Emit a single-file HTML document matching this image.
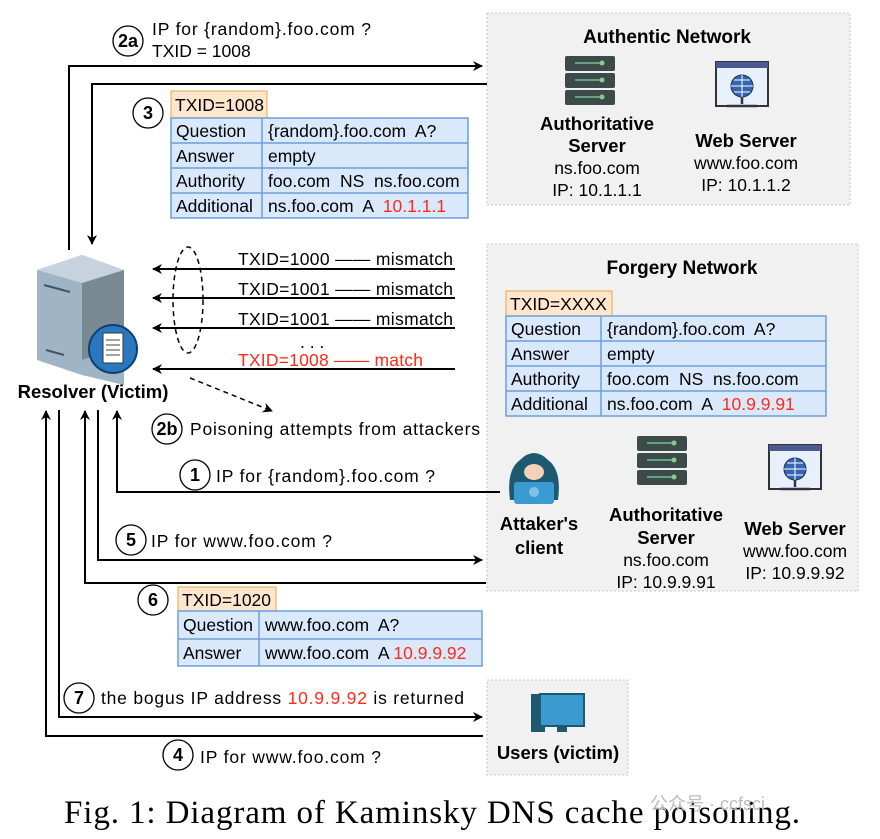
<!DOCTYPE html>
<html><head><meta charset="utf-8"><style>
html,body{margin:0;padding:0;background:#fff;}
svg{display:block;font-family:"Liberation Sans",Arial,sans-serif;}
text{white-space:pre;}
</style></head><body>
<svg width="880" height="839" viewBox="0 0 880 839" xmlns="http://www.w3.org/2000/svg" xml:space="preserve">
<defs>
<marker id="a" markerWidth="10" markerHeight="10" refX="9" refY="5" orient="auto" markerUnits="userSpaceOnUse"><path d="M0,0 L10,5 L0,10 L3,5 z" fill="#000"/></marker>
</defs>
<rect x="487" y="13" width="363" height="192" fill="#f1f1f1" stroke="#c8c8c8" stroke-dasharray="2,2"/>
<rect x="487" y="244" width="371" height="347" fill="#f1f1f1" stroke="#c8c8c8" stroke-dasharray="2,2"/>
<rect x="487" y="680" width="141" height="95" fill="#f1f1f1" stroke="#c8c8c8" stroke-dasharray="2,2"/>

<g font-size="17" fill="#000">
<text x="667" y="43" text-anchor="middle" font-weight="bold" font-size="19">Authentic Network</text>
<text x="682" y="274" text-anchor="middle" font-weight="bold" font-size="19">Forgery Network</text>
</g>

<g stroke="#000" stroke-width="2" fill="none">
<polyline points="69,250 69,66 482,66" marker-end="url(#a)"/>
<polyline points="487,84 92,84 92,244" marker-end="url(#a)"/>
<line x1="455" y1="269" x2="153" y2="269" marker-end="url(#a)"/>
<line x1="455" y1="298" x2="153" y2="298" marker-end="url(#a)"/>
<line x1="455" y1="328" x2="153" y2="328" marker-end="url(#a)"/>
<line x1="455" y1="369" x2="153" y2="369" marker-end="url(#a)"/>
<polyline points="500,492 117,492 117,411" marker-end="url(#a)"/>
<polyline points="98,410 98,560 482,560" marker-end="url(#a)"/>
<polyline points="486,583 85,583 85,411" marker-end="url(#a)"/>
<polyline points="59,410 59,717 482,717" marker-end="url(#a)"/>
<polyline points="483,736 46,736 46,411" marker-end="url(#a)"/>
</g>
<ellipse cx="188" cy="300" rx="15" ry="53" fill="none" stroke="#000" stroke-width="1.5" stroke-dasharray="5,4"/>
<line x1="190" y1="378" x2="272" y2="411" stroke="#000" stroke-width="1.5" stroke-dasharray="5,4" marker-end="url(#a)"/>

<g font-size="17.5" fill="#000">
<text x="152" y="35" textLength="219">IP for {random}.foo.com ?</text>
<text x="152" y="57">TXID = 1008</text>
<text x="238" y="265" textLength="215">TXID=1000 —— mismatch</text>
<text x="238" y="295" textLength="215">TXID=1001 —— mismatch</text>
<text x="238" y="325" textLength="215">TXID=1001 —— mismatch</text>
<text x="300" y="348">. . .</text>
<text x="238" y="366" fill="#ff2a1a" textLength="185">TXID=1008 —— match</text>
<text x="190" y="435" textLength="290">Poisoning attempts from attackers</text>
<text x="216" y="482" textLength="219">IP for {random}.foo.com ?</text>
<text x="151" y="547" textLength="181">IP for www.foo.com ?</text>
<text x="101" y="704" textLength="363">the bogus IP address <tspan fill="#ff2a1a">10.9.9.92</tspan> is returned</text>
<text x="200" y="763" textLength="181">IP for www.foo.com ?</text>
<text x="93" y="398" font-weight="bold" font-size="18.5" text-anchor="middle">Resolver (Victim)</text>
</g>
<g fill="#fff" stroke="#000" stroke-width="1.3">
<circle cx="128" cy="41" r="15"/><circle cx="148" cy="113" r="15"/><circle cx="167" cy="429" r="15"/>
<circle cx="195" cy="475" r="15"/><circle cx="131" cy="540" r="15"/><circle cx="153" cy="600" r="15"/>
<circle cx="79" cy="698" r="15"/><circle cx="178" cy="755" r="15"/>
</g>
<g font-size="18" font-weight="bold" text-anchor="middle">
<text x="128" y="47">2a</text><text x="148" y="119">3</text><text x="167" y="435">2b</text>
<text x="195" y="481">1</text><text x="131" y="546">5</text><text x="153" y="606">6</text>
<text x="79" y="704">7</text><text x="178" y="761">4</text>
</g>

<g font-size="17.5">
<rect x="171" y="91" width="96" height="27" fill="#ffe6cc" stroke="#e8a64a"/>
<text x="175" y="111">TXID=1008</text>
<rect x="171" y="118" width="297" height="100" fill="#dae8fc" stroke="#6c9ed8" stroke-width="1.5"/>
<g stroke="#6c9ed8" stroke-width="1.5"><line x1="171" y1="143" x2="468" y2="143"/><line x1="171" y1="168" x2="468" y2="168"/><line x1="171" y1="193" x2="468" y2="193"/><line x1="262" y1="118" x2="262" y2="218"/></g>
<text x="176" y="137">Question</text><text x="268" y="137">{random}.foo.com  A?</text>
<text x="176" y="162">Answer</text><text x="268" y="162">empty</text>
<text x="176" y="187">Authority</text><text x="268" y="187">foo.com  NS  ns.foo.com</text>
<text x="176" y="212">Additional</text><text x="268" y="212">ns.foo.com  A  <tspan fill="#ff2a1a">10.1.1.1</tspan></text>

<rect x="506" y="291" width="106" height="25" fill="#ffe6cc" stroke="#e8a64a"/>
<text x="510" y="310">TXID=XXXX</text>
<rect x="506" y="316" width="320" height="100" fill="#dae8fc" stroke="#6c9ed8" stroke-width="1.5"/>
<g stroke="#6c9ed8" stroke-width="1.5"><line x1="506" y1="341" x2="826" y2="341"/><line x1="506" y1="366" x2="826" y2="366"/><line x1="506" y1="391" x2="826" y2="391"/><line x1="601" y1="316" x2="601" y2="416"/></g>
<text x="511" y="335">Question</text><text x="607" y="335">{random}.foo.com  A?</text>
<text x="511" y="360">Answer</text><text x="607" y="360">empty</text>
<text x="511" y="385">Authority</text><text x="607" y="385">foo.com  NS  ns.foo.com</text>
<text x="511" y="410">Additional</text><text x="607" y="410">ns.foo.com  A  <tspan fill="#ff2a1a">10.9.9.91</tspan></text>

<rect x="178" y="587" width="98" height="24" fill="#ffe6cc" stroke="#e8a64a"/>
<text x="182" y="606">TXID=1020</text>
<rect x="178" y="611" width="304" height="55" fill="#dae8fc" stroke="#6c9ed8" stroke-width="1.5"/>
<g stroke="#6c9ed8" stroke-width="1.5"><line x1="178" y1="639" x2="482" y2="639"/><line x1="259" y1="611" x2="259" y2="666"/></g>
<text x="183" y="631">Question</text><text x="265" y="631">www.foo.com  A?</text>
<text x="183" y="659">Answer</text><text x="265" y="659">www.foo.com  A <tspan fill="#ff2a1a">10.9.9.92</tspan></text>
</g>

<g font-size="17.5" text-anchor="middle">
<text x="597" y="130" font-weight="bold" font-size="18.5">Authoritative</text>
<text x="597" y="152" font-weight="bold" font-size="18.5">Server</text>
<text x="597" y="174">ns.foo.com</text><text x="597" y="196">IP: 10.1.1.1</text>
<text x="746" y="147" font-weight="bold" font-size="18.5">Web Server</text>
<text x="746" y="169">www.foo.com</text><text x="746" y="191">IP: 10.1.1.2</text>
<text x="539" y="530" font-weight="bold" font-size="18.5">Attaker's</text>
<text x="539" y="554" font-weight="bold" font-size="18.5">client</text>
<text x="666" y="521" font-weight="bold" font-size="18.5">Authoritative</text>
<text x="666" y="544" font-weight="bold" font-size="18.5">Server</text>
<text x="666" y="566">ns.foo.com</text><text x="666" y="588">IP: 10.9.9.91</text>
<text x="795" y="535" font-weight="bold" font-size="18.5">Web Server</text>
<text x="795" y="557">www.foo.com</text><text x="795" y="579">IP: 10.9.9.92</text>
<text x="558" y="759" font-weight="bold" font-size="18.5">Users (victim)</text>
</g>

<g id="srv">
<rect x="565" y="56" width="50" height="15" rx="2" fill="#3d4a4a"/>
<rect x="565" y="73" width="50" height="15" rx="2" fill="#3d4a4a"/>
<rect x="565" y="90" width="50" height="15" rx="2" fill="#3d4a4a"/>
<g stroke="#8fb" stroke-width="1"><line x1="575" y1="63" x2="600" y2="63"/><line x1="575" y1="80" x2="600" y2="80"/><line x1="575" y1="97" x2="600" y2="97"/></g>
<circle cx="602" cy="63" r="2.5" fill="#8c8"/><circle cx="602" cy="80" r="2.5" fill="#8c8"/><circle cx="602" cy="97" r="2.5" fill="#8c8"/>
</g>
<use href="#srv" x="72" y="380"/>
<g id="web">
<rect x="716" y="62" width="52" height="44" fill="#e8f0fb" stroke="#333" stroke-width="2"/>
<rect x="716" y="62" width="52" height="6" fill="#4a5a90"/>
<circle cx="742" cy="86" r="11" fill="#3565b0" stroke="#1a2f60"/>
<path d="M731,86 H753 M742,75 V97 M734,80 H750 M734,92 H750" stroke="#fff" stroke-width="1"/>
<path d="M742,97 V104 M727,106 H757" stroke="#334" stroke-width="2.5"/>
</g>
<use href="#web" x="53" y="383"/>
<path d="M510,500 Q506,470 520,460 Q534,446 548,460 Q562,470 558,500 Z" fill="#1d5a72"/>
<ellipse cx="534" cy="472" rx="10" ry="8" fill="#f3d2b8"/>
<rect x="514" y="482" width="40" height="22" rx="3" fill="#3a9bd0"/>
<circle cx="534" cy="492" r="5" fill="#7fc2e8"/>
<rect x="531" y="694" width="14" height="38" fill="#1d5a72"/>
<rect x="540" y="694" width="44" height="32" fill="#3a9bd0" stroke="#1d5a72" stroke-width="2"/>
<rect x="557" y="726" width="10" height="6" fill="#1d5a72"/>
<path d="M37,270 L82,255 L124,270 L124,385 L82,375 L37,360 Z" fill="#9fb4c4"/>
<path d="M82,280 L124,270 L124,345 L82,360 Z" fill="#7a8a94"/>
<path d="M37,270 L82,255 L124,270 L82,283 Z" fill="#c6d3de"/>
<line x1="44" y1="285" x2="70" y2="292" stroke="#456" stroke-width="2"/>
<line x1="46" y1="350" x2="64" y2="355" stroke="#456" stroke-width="2"/>
<circle cx="113" cy="349" r="24" fill="#2a78c0" stroke="#0d3f70" stroke-width="2"/>
<rect x="103" y="333" width="20" height="30" fill="#fff" stroke="#333"/>
<g stroke="#444"><line x1="106" y1="340" x2="120" y2="340"/><line x1="106" y1="345" x2="120" y2="345"/><line x1="106" y1="350" x2="120" y2="350"/><line x1="106" y1="355" x2="120" y2="355"/></g>

<text x="64" y="823" textLength="736" font-family="'Liberation Serif',serif" font-size="33">Fig. 1: Diagram of Kaminsky DNS cache poisoning.</text>
<text x="650" y="810" font-size="18" fill="#bbb" font-family="'Liberation Sans','Noto Sans CJK SC',sans-serif">公众号 · ccfsci</text>
</svg>
</body></html>
